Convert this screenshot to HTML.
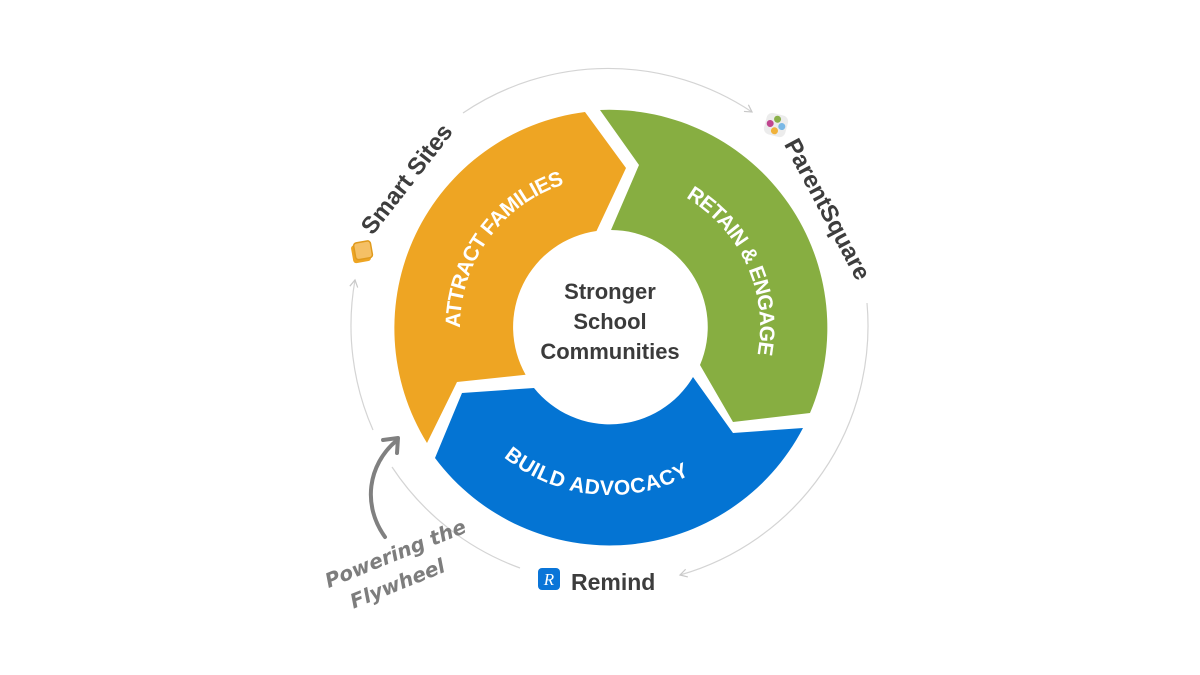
<!DOCTYPE html>
<html><head><meta charset="utf-8"><style>
html,body{margin:0;padding:0;background:#fff;}
svg{display:block;}
</style></head><body>
<svg width="1200" height="675" viewBox="0 0 1200 675" xmlns="http://www.w3.org/2000/svg">
<defs>
<path id="pA" d="M464.5,363.3 A150,150 0 0 1 599.5,177.4"/>
<path id="pR" d="M650.1,182.5 A150,150 0 0 1 745.4,391.6"/>
<path id="pB" d="M471.6,422.2 A168,168 0 0 0 727.8,446.8"/>
<marker id="ah" markerWidth="10" markerHeight="10" refX="8" refY="5" orient="auto" markerUnits="userSpaceOnUse">
<path d="M1,1 L8,5 L1,9" fill="none" stroke="#c8c8c8" stroke-width="1.2"/>
</marker>
</defs>
<rect width="1200" height="675" fill="#fff"/>

<g fill="none" stroke="#d4d4d4" stroke-width="1.2">
<path d="M463,113 A259,259 0 0 1 752,112" marker-end="url(#ah)"/>
<path d="M867,303 A259,259 0 0 1 680,575" marker-end="url(#ah)"/>
<path d="M520,568 A259,259 0 0 1 392,467"/>
<path d="M373,430 A259,259 0 0 1 355,280" marker-end="url(#ah)"/>
</g>

<path d="M427,443 A218,218 0 0 1 585,112 L626,168 L596.5,231 A97,97 0 0 0 525.6,374.7 L457,382 Z" fill="#eea523"/>
<path d="M600,110 A218,218 0 0 1 810,413 L733,422 L700,365 A97,97 0 0 0 611,230 L639,165 Z" fill="#87ae41"/>
<path d="M803,428 A218,218 0 0 1 435,458 L462,393 L534,388 A97,97 0 0 0 693,377 L733,433 Z" fill="#0474d3"/>

<g font-family="Liberation Sans, sans-serif" font-weight="bold" font-size="21" fill="#fff">
<text><textPath href="#pA" startOffset="50%" text-anchor="middle" textLength="190" lengthAdjust="spacing">ATTRACT FAMILIES</textPath></text>
<text><textPath href="#pR" startOffset="50%" text-anchor="middle" textLength="184" lengthAdjust="spacing">RETAIN &amp; ENGAGE</textPath></text>
<text><textPath href="#pB" startOffset="50%" text-anchor="middle" textLength="198" lengthAdjust="spacing">BUILD ADVOCACY</textPath></text>
</g>

<g font-family="Liberation Sans, sans-serif" font-weight="bold" font-size="22" fill="#3b3b3b" text-anchor="middle">
<text x="610" y="299">Stronger</text>
<text x="610" y="329">School</text>
<text x="610" y="359">Communities</text>
</g>

<g transform="translate(362,253) rotate(-10)">
<rect x="-10" y="-9" width="18" height="18" rx="3" fill="#eea523"/>
<rect x="-7" y="-11" width="17" height="17" rx="3" fill="#f5c065" stroke="#e09a1c" stroke-width="1.5"/>
</g>
<text transform="translate(408,180) rotate(-52)" font-family="Liberation Sans, sans-serif" font-weight="bold" font-size="24" fill="#3d3d3d" text-anchor="middle" dominant-baseline="middle">Smart Sites</text>

<g transform="translate(776,125) rotate(15)">
<rect x="-11" y="-11" width="22" height="22" rx="6" fill="#ececec"/>
<circle cx="0" cy="-6" r="3.5" fill="#8ab04a"/>
<circle cx="6" cy="0" r="3.5" fill="#7ab8e6"/>
<circle cx="0" cy="6" r="3.5" fill="#f0b23a"/>
<circle cx="-6" cy="0" r="3.5" fill="#c0468f"/>
</g>
<text transform="translate(826,210) rotate(62)" font-family="Liberation Sans, sans-serif" font-weight="bold" font-size="24" fill="#3d3d3d" text-anchor="middle" dominant-baseline="middle">ParentSquare</text>

<rect x="538" y="568" width="22" height="22" rx="4" fill="#0a75d8"/>
<text x="549" y="585" font-family="Liberation Serif, serif" font-style="italic" font-size="17" fill="#fff" text-anchor="middle">R</text>
<text x="571" y="590" font-family="Liberation Sans, sans-serif" font-weight="bold" font-size="23" fill="#3d3d3d">Remind</text>

<path d="M385,537 C362,505 368,465 396,441" fill="none" stroke="#808080" stroke-width="4" stroke-linecap="round"/>
<path d="M383,440 L398,438 L397,453" fill="none" stroke="#808080" stroke-width="4" stroke-linecap="round" stroke-linejoin="round"/>
<g font-family="DejaVu Sans, sans-serif" font-weight="bold" font-style="italic" font-size="20" fill="#7d7d7d" text-anchor="middle">
<text transform="translate(398,560) rotate(-22)">Powering the</text>
<text transform="translate(400,590) rotate(-22)">Flywheel</text>
</g>
</svg>
</body></html>
